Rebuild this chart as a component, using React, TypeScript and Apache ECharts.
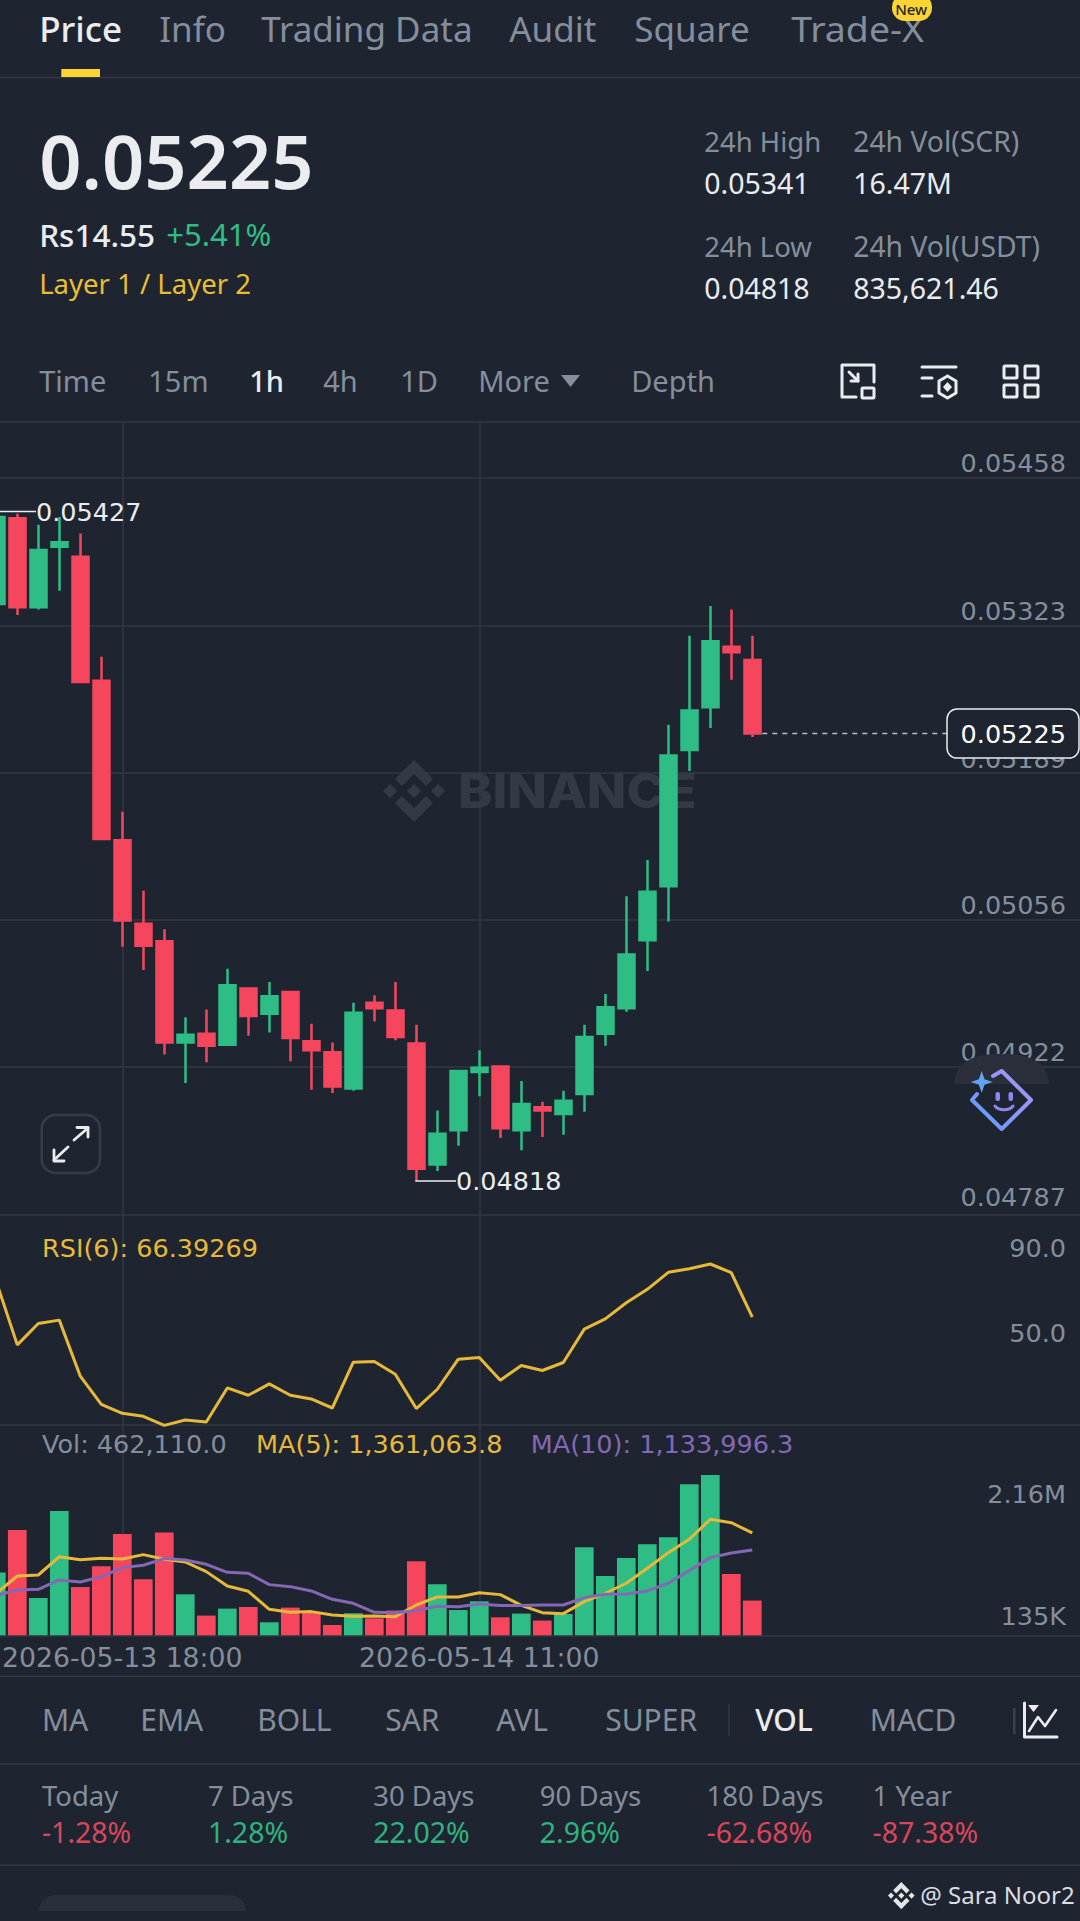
import React, { useEffect, useRef } from "react";
import * as echarts from "echarts";

const BG = "#1F2530";
const LINE = "#323945";
const GREY = "#848E9C";
const WHITE = "#EAECEF";
const UP = "#2EBD85";
const DOWN = "#F6465D";
const GOLD = "#E6B93A";
const PURPLE = "#8468B5";
const UI = "'Noto Sans'";
const NUM = "'DejaVu Sans'";

// [open, close, low, high]
const candles: number[][] = [
  [0.05343, 0.05422, 0.05328, 0.05427],
  [0.05421, 0.0534, 0.05333, 0.05425],
  [0.0534, 0.05392, 0.05338, 0.05415],
  [0.05395, 0.05399, 0.05355, 0.05422],
  [0.05386, 0.05272, 0.05271, 0.05407],
  [0.05273, 0.05129, 0.05128, 0.05295],
  [0.05128, 0.05055, 0.05031, 0.05154],
  [0.05052, 0.05032, 0.0501, 0.05082],
  [0.05036, 0.04944, 0.04933, 0.05047],
  [0.04944, 0.04951, 0.04907, 0.04967],
  [0.04952, 0.04941, 0.04926, 0.04974],
  [0.04942, 0.04996, 0.04941, 0.05011],
  [0.04993, 0.04968, 0.0495, 0.04994],
  [0.0497, 0.04986, 0.04953, 0.04999],
  [0.0499, 0.04948, 0.04927, 0.04991],
  [0.04945, 0.04937, 0.04901, 0.04961],
  [0.04935, 0.04904, 0.04898, 0.04944],
  [0.04902, 0.04971, 0.049, 0.0498],
  [0.0498, 0.04975, 0.04963, 0.04987],
  [0.04973, 0.04949, 0.04946, 0.04999],
  [0.04943, 0.04829, 0.04818, 0.0496],
  [0.04833, 0.04861, 0.04827, 0.04882],
  [0.04864, 0.04918, 0.0485, 0.04919],
  [0.04917, 0.04921, 0.04895, 0.04937],
  [0.04922, 0.04866, 0.04857, 0.04923],
  [0.04864, 0.04888, 0.04846, 0.04909],
  [0.04885, 0.04882, 0.04858, 0.0489],
  [0.04879, 0.04891, 0.0486, 0.049],
  [0.04897, 0.04949, 0.04881, 0.0496],
  [0.04952, 0.04976, 0.04941, 0.04988],
  [0.04975, 0.05024, 0.04972, 0.05077],
  [0.05037, 0.05081, 0.05009, 0.0511],
  [0.05086, 0.05205, 0.05054, 0.05233],
  [0.0521, 0.05246, 0.05191, 0.05314],
  [0.05249, 0.05309, 0.0523, 0.05341],
  [0.05304, 0.05299, 0.05274, 0.05338],
  [0.05292, 0.05225, 0.05222, 0.05314],
];

const rsi6 = [
  83.18, 53.27, 63.41, 64.98, 38.44, 25.17, 20.9, 19.48, 15.21, 17.73, 16.78, 32.89, 29.43, 34.79, 29.43, 27.68, 23.41,
  45.07, 45.4, 39.38, 23.13, 32.28, 46.49, 47.3, 36.54, 43.51, 41.14, 44.93, 60.71, 65.59, 73.18, 79.53, 87.58, 89.29,
  91.52, 87.39, 66.39,
];

const volumes = [
  834000, 1400000, 496000, 1653000, 642000, 918000, 1347000, 745000, 1366000, 545000, 262000, 355000, 376000, 173000,
  368000, 302000, 137000, 293000, 226000, 329000, 984000, 678000, 336000, 452000, 239000, 289000, 196000, 283000,
  1170000, 789000, 1028000, 1210000, 1303000, 2008000, 2132000, 815000, 462110,
];

const volMa5 = [
  559000, 789000, 802000, 1046000, 1006000, 1024000, 1015000, 1073000, 1011000, 975000, 847000, 656000, 585000, 346000,
  306000, 315000, 270000, 253000, 257000, 248000, 403000, 510000, 510000, 567000, 541000, 399000, 301000, 288000,
  448000, 559000, 692000, 891000, 1099000, 1277000, 1543000, 1498000, 1361064,
];

const volMa10 = [
  528000, 603000, 612000, 736000, 709000, 780000, 900000, 931000, 1020000, 1002000, 944000, 838000, 825000, 674000,
  647000, 590000, 479000, 426000, 306000, 301000, 328000, 386000, 381000, 417000, 395000, 395000, 403000, 403000,
  501000, 545000, 550000, 590000, 692000, 860000, 1033000, 1095000, 1133996,
];

const priceTicks = [0.05458, 0.05323, 0.05189, 0.05056, 0.04922, 0.04787];
const rsiTicks = [90, 50];
const volTickLabels = ["2.16M", "135K"];
const timeTickIndexes = [6, 23];

const startTime = Date.UTC(2026, 4, 13, 12);
const categories = Array.from({ length: 53 }, (_, i) => {
  const d = new Date(startTime + i * 3600000);
  const p = (n: number) => String(n).padStart(2, "0");
  return `${d.getUTCFullYear()}-${p(d.getUTCMonth() + 1)}-${p(d.getUTCDate())} ${p(d.getUTCHours())}:00`;
});

const topTabs = [
  ["Price", 40],
  ["Info", 160],
  ["Trading Data", 262],
  ["Audit", 510],
  ["Square", 635],
  ["Trade-X", 792],
] as const;
const frames = [
  ["Time", 40],
  ["15m", 149],
  ["1h", 250],
  ["4h", 324],
  ["1D", 401],
  ["More", 479],
  ["Depth", 632],
] as const;
const indicators = [
  ["MA", 42.7],
  ["EMA", 141],
  ["BOLL", 258],
  ["SAR", 386],
  ["AVL", 497],
  ["SUPER", 606],
  ["VOL", 756],
  ["MACD", 870.5],
] as const;
const periods = [
  ["Today", "-1.28%", 42.7],
  ["7 Days", "1.28%", 208.7],
  ["30 Days", "22.02%", 374],
  ["90 Days", "2.96%", 540.6],
  ["180 Days", "-62.68%", 707.3],
  ["1 Year", "-87.38%", 873.3],
] as const;

const LOGO =
  "M38.73 53.2l24.59-24.58 24.6 24.6 14.3-14.31L63.32 0 24.43 38.9zM0 63.31l14.3-14.31 14.31 14.31-14.31 14.3zM38.73 73.41l24.59 24.59 24.6-24.6 14.31 14.29-38.9 38.91-38.91-38.88-.02-.02zM98 63.31l14.3-14.3 14.31 14.3-14.31 14.31zM77.83 63.3L63.32 48.78 52.59 59.51l-1.24 1.23-2.54 2.54 14.51 14.5 14.51-14.47z";
echarts.graphic.registerShape("binanceLogo", echarts.graphic.extendPath(LOGO, {}) as any);
echarts.graphic.registerShape(
  "botDome",
  echarts.graphic.extendPath("M0 31 C1 9 20 0 47 1 C74 0 94 9 95 31 Z", {}) as any
);

const txt = (
  text: string,
  x: number,
  y: number,
  size: number,
  fill: string,
  family: string = UI,
  weight: number = 400,
  align: string = "left",
  z = 30
) => ({
  type: "text",
  x: family === UI ? x - 0.8 : x,
  y: family === UI ? y - 2 : y,
  z,
  silent: true,
  style: { text, fontSize: size, fontFamily: family, fontWeight: weight, fill, align, verticalAlign: "middle" },
});
const rule = (y: number) => ({
  type: "line",
  z: 5,
  silent: true,
  shape: { x1: 0, y1: y, x2: 1080, y2: y },
  style: { stroke: LINE, lineWidth: 1.5 },
});
const stroke = (points: number[][], color = WHITE, lineWidth = 3, z = 30) => ({
  type: "polyline",
  z,
  silent: true,
  shape: { points },
  style: { stroke: color, lineWidth, fill: "none", lineCap: "round", lineJoin: "round" },
});
const box = (x: number, y: number, width: number, height: number, r: any, st: any, z = 30) => ({
  type: "rect",
  z,
  silent: true,
  shape: { x, y, width, height, r },
  style: st,
});

function staticGraphics(): any[] {
  const out: any[] = [];
  topTabs.forEach(([label, x], i) => {
    const el: any = txt(label, x, 30, 35, i === 0 ? WHITE : GREY, UI, i === 0 ? 500 : 400);
    if (label === "Trade-X") el.scaleX = 1.07;
    out.push(el);
  });
  out.push(box(61.3, 69, 38.7, 8, 0, { fill: "#FCD535" }));
  out.push(rule(77.5));
  out.push(box(892, -6, 40, 27, 13, { fill: "#FCD535" }));
  out.push(txt("New", 912, 11, 15, "#1F2530", UI, 500, "center"));

  out.push(txt("0.05225", 40, 162, 74, WHITE, UI, 600));
  out.push(txt("Rs14.55", 40, 236, 31.5, WHITE, UI, 500));
  out.push(txt("+5.41%", 167, 236, 31, UP, UI, 400));
  out.push(txt("Layer 1 / Layer 2", 40, 285, 27.5, "#EBBD35", UI, 400));
  out.push(txt("24h High", 705, 143, 27.5, GREY));
  out.push(txt("0.05341", 705, 185, 28.5, WHITE));
  out.push(txt("24h Low", 705, 248, 27.5, GREY));
  out.push(txt("0.04818", 705, 290, 28.5, WHITE));
  out.push(txt("24h Vol(SCR)", 854, 143, 28.3, GREY));
  out.push(txt("16.47M", 854, 185, 28.5, WHITE));
  out.push(txt("24h Vol(USDT)", 854, 248, 28.3, GREY));
  out.push(txt("835,621.46", 854, 290, 28.5, WHITE));

  frames.forEach(([label, x]) =>
    out.push(txt(label, x, 382, 29, label === "1h" ? WHITE : GREY, UI, label === "1h" ? 500 : 400))
  );
  out.push({
    type: "polygon",
    z: 30,
    silent: true,
    shape: { points: [[561, 375], [580, 375], [570.5, 387]] },
    style: { fill: GREY },
  });
  // toolbar icons
  out.push(stroke([[856, 397], [842, 397], [842, 365], [874, 365], [874, 382]]));
  out.push(stroke([[849, 372], [858, 381]]));
  out.push(stroke([[858, 374], [858, 381], [851, 381]]));
  out.push(box(862, 388, 12, 10, 1, { stroke: WHITE, lineWidth: 3, fill: "none" }));
  out.push(stroke([[922, 367], [956, 367]]));
  out.push(stroke([[922, 378], [932, 378]]));
  out.push(stroke([[922, 396], [932, 396]]));
  out.push(stroke([[947.5, 376], [956, 381], [956, 393], [947.5, 398], [939, 393], [939, 381], [947.5, 376]]));
  out.push({
    type: "polygon",
    z: 30,
    silent: true,
    shape: { points: [[947.5, 382], [952, 387], [947.5, 392], [943, 387]] },
    style: { fill: WHITE },
  });
  [[1004, 366], [1025, 366], [1004, 385], [1025, 385]].forEach(([x, y]) =>
    out.push(box(x, y, 13, 12, 1, { stroke: WHITE, lineWidth: 3, fill: "none" }))
  );
  out.push(rule(422));

  // watermark
  out.push({
    type: "binanceLogo",
    z: 1,
    silent: true,
    x: 383,
    y: 760,
    scaleX: 0.49,
    scaleY: 0.49,
    style: { fill: "#333A45" },
  });
  out.push({
    type: "text",
    z: 1,
    silent: true,
    x: 458,
    y: 791,
    scaleX: 1.08,
    style: {
      text: "BINANCE",
      fontSize: 48,
      fontFamily: "Inter",
      fontWeight: 800,
      fill: "#333A45",
      align: "left",
      verticalAlign: "middle",
    },
  });

  // expand button
  out.push(box(41.7, 1115, 58.3, 58, 14, { stroke: "#363D49", lineWidth: 2.5, fill: "none" }));
  out.push(stroke([[54, 1160], [68, 1147]], WHITE, 2.8));
  out.push(stroke([[54, 1150], [54, 1161], [64, 1161]], WHITE, 2.8));
  out.push(stroke([[74, 1140], [88, 1128]], WHITE, 2.8));
  out.push(stroke([[77, 1127.5], [88, 1127.5], [88, 1137]], WHITE, 2.8));

  // assistant bubble
  out.push({
    type: "botDome",
    z: 25,
    silent: true,
    x: 954,
    y: 1053,
    style: { fill: "#2B2E3B" },
  });
  out.push({
    type: "polyline",
    z: 30,
    silent: true,
    shape: { points: [[993, 1076], [1001.7, 1071], [1031, 1100], [1001.7, 1129], [972, 1100], [977, 1094]] },
    style: {
      fill: "none",
      lineWidth: 4,
      lineJoin: "round",
      lineCap: "round",
      stroke: new echarts.graphic.LinearGradient(0, 1, 1, 0, [
        { offset: 0, color: "#5B9CF8" },
        { offset: 1, color: "#B294F5" },
      ]),
    },
  });
  out.push({
    type: "polygon",
    z: 30,
    silent: true,
    shape: {
      points: [[981.7, 1071], [984.5, 1079.2], [992.7, 1082], [984.5, 1084.8], [981.7, 1093], [978.9, 1084.8], [970.7, 1082], [978.9, 1079.2]],
    },
    style: { fill: "#62A3F6" },
  });
  out.push(box(995.5, 1092, 4.5, 9, 2, { fill: "#8F86F0" }));
  out.push(box(1008.5, 1092, 4.5, 9, 2, { fill: "#8F86F0" }));
  out.push({
    type: "bezierCurve",
    z: 30,
    silent: true,
    shape: { x1: 995, y1: 1106, x2: 1013, y2: 1106, cpx1: 999, cpy1: 1111, cpx2: 1009, cpy2: 1111 },
    style: { stroke: "#8F86F0", lineWidth: 3, fill: "none", lineCap: "round" },
  });

  // pane legends
  out.push(txt("RSI(6): 66.39269", 42, 1247.5, 25.5, GOLD, NUM));
  out.push(txt("Vol: 462,110.0", 42, 1444, 25.5, GREY, NUM));
  out.push(txt("MA(5): 1,361,063.8", 256, 1444, 25.5, GOLD, NUM));
  out.push(txt("MA(10): 1,133,996.3", 530.7, 1444, 25.5, PURPLE, NUM));
  out.push(txt(volTickLabels[0], 1066, 1494, 25.5, GREY, NUM, 400, "right"));
  out.push(txt(volTickLabels[1], 1066, 1616, 25.5, GREY, NUM, 400, "right"));

  // indicator row
  out.push(rule(1676.3));
  indicators.forEach(([label, x]) =>
    out.push(txt(label, x, 1721.7, 30, label === "VOL" ? WHITE : GREY, UI, label === "VOL" ? 500 : 400))
  );
  out.push({
    type: "line",
    z: 30,
    silent: true,
    shape: { x1: 729, y1: 1704, x2: 729, y2: 1736 },
    style: { stroke: LINE, lineWidth: 1.5 },
  });
  out.push(box(1013, 1708, 2.5, 26, 0, { fill: "#3A414D" }));
  out.push(stroke([[1024.5, 1703], [1024.5, 1737], [1057, 1737]], WHITE, 3));
  out.push(stroke([[1029, 1731], [1038, 1717], [1045, 1726], [1056, 1710]], WHITE, 2.6));
  out.push({
    type: "polygon",
    z: 30,
    silent: true,
    shape: { points: [[1028, 1705], [1039, 1705], [1033.5, 1712]] },
    style: { fill: WHITE },
  });
  out.push(rule(1764));
  periods.forEach(([label, value, x]) => {
    out.push(txt(label, x, 1797.7, 27.5, GREY));
    out.push(txt(value, x, 1834, 28.5, value.startsWith("-") ? "#D9465C" : "#2EB380"));
  });
  out.push(rule(1865.3));
  out.push(box(39, 1895, 207, 16, [16, 16, 0, 0], { fill: "#2A303B" }));
  out.push({
    type: "binanceLogo",
    z: 30,
    silent: true,
    x: 888,
    y: 1882,
    scaleX: 0.21,
    scaleY: 0.215,
    style: { fill: "#E3E5E8" },
  });
  out.push(txt("@ Sara Noor2", 921, 1896, 24, "#DADDE1"));
  return out;
}

const xAxisBase = (gridIndex: number) => ({
  type: "category",
  gridIndex,
  data: categories,
  boundaryGap: true,
  axisTick: { show: false },
  axisLabel: { show: false },
  axisLine: { show: gridIndex > 0, lineStyle: { color: LINE, width: 1.5 } },
  splitLine: {
    show: true,
    alignWithLabel: true,
    interval: (i: number) => timeTickIndexes.includes(i),
    lineStyle: { color: LINE, width: 1.5 },
  },
});

export default function App() {
  const ref = useRef<HTMLDivElement>(null);
  useEffect(() => {
    document.body.style.margin = "0";
    document.body.style.background = BG;
    const chart = echarts.init(ref.current!, undefined, { renderer: "svg" });
    const gridLeft = -14.2;
    const gridWidth = 21 * categories.length;
    const gridBase = { left: gridLeft, width: gridWidth, outerBoundsMode: "none" };
    const option: any = {
      animation: false,
      backgroundColor: BG,
      grid: [
        { ...gridBase, top: 422, height: 793 },
        { ...gridBase, top: 1215, height: 209.3 },
        { ...gridBase, top: 1424.3, height: 211 },
      ],
      xAxis: [
        xAxisBase(0),
        xAxisBase(1),
        {
          ...xAxisBase(2),
          axisLabel: {
            show: true,
            interval: (i: number) => timeTickIndexes.includes(i),
            hideOverlap: false,
            color: GREY,
            fontFamily: NUM,
            fontSize: 26.7,
            margin: 9,
          },
        },
      ],
      yAxis: [
        {
          type: "value",
          gridIndex: 0,
          position: "right",
          min: 0.04787,
          max: 0.055085,
          axisLine: { show: false },
          axisTick: { show: false, customValues: priceTicks },
          splitLine: { show: true, lineStyle: { color: LINE, width: 1.5 } },
          axisLabel: {
            inside: true,
            customValues: priceTicks,
            formatter: (v: number) => (v === 0.04787 ? `{low|${v.toFixed(5)}}` : v.toFixed(5)),
            rich: { low: { lineHeight: 36, fontFamily: NUM, fontSize: 25.5, color: GREY } },
            color: GREY,
            fontFamily: NUM,
            fontSize: 25.5,
            margin: 32.8,
            align: "right",
            verticalAlign: "bottom",
            lineHeight: 29,
            hideOverlap: false,
          },
        },
        {
          type: "value",
          gridIndex: 1,
          position: "right",
          min: 15.7,
          max: 114.7,
          axisLine: { show: false },
          axisTick: { show: false, customValues: rsiTicks },
          splitLine: { show: false },
          axisLabel: {
            inside: true,
            customValues: rsiTicks,
            formatter: (v: number) => v.toFixed(1),
            color: GREY,
            fontFamily: NUM,
            fontSize: 25.5,
            margin: 32.8,
            align: "right",
            verticalAlign: "bottom",
            lineHeight: 38,
            hideOverlap: false,
          },
        },
        {
          type: "value",
          gridIndex: 2,
          position: "right",
          min: 0,
          max: 2806300,
          axisLine: { show: false },
          axisTick: { show: false },
          splitLine: { show: false },
          axisLabel: { show: false },
        },
      ],
      series: [
        {
          type: "candlestick",
          name: "Price",
          xAxisIndex: 0,
          yAxisIndex: 0,
          barWidth: 16.2,
          data: candles,
          itemStyle: { color: UP, color0: DOWN, borderColor: UP, borderColor0: DOWN, borderWidth: 2.5 },
        },
        {
          type: "line",
          name: "RSI(6)",
          xAxisIndex: 1,
          yAxisIndex: 1,
          data: rsi6,
          showSymbol: false,
          symbol: "none",
          clip: false,
          lineStyle: { color: GOLD, width: 3 },
        },
        {
          type: "bar",
          name: "Vol",
          xAxisIndex: 2,
          yAxisIndex: 2,
          barWidth: 18.67,
          data: volumes.map((value, i) => ({
            value,
            itemStyle: { color: candles[i][1] >= candles[i][0] ? UP : DOWN },
          })),
        },
        {
          type: "line",
          name: "MA(5)",
          xAxisIndex: 2,
          yAxisIndex: 2,
          data: volMa5,
          symbol: "none",
          lineStyle: { color: GOLD, width: 3 },
        },
        {
          type: "line",
          name: "MA(10)",
          xAxisIndex: 2,
          yAxisIndex: 2,
          data: volMa10,
          symbol: "none",
          lineStyle: { color: PURPLE, width: 3 },
        },
      ],
    };
    chart.setOption(option);

    // annotations are located through the chart's own scales
    const toPx = (i: number, v: number) => chart.convertToPixel({ xAxisIndex: 0, yAxisIndex: 0 }, [i, v]) as number[];
    const last = candles.length - 1;
    const [lastX, closeY] = toPx(last, candles[last][1]);
    const highY = toPx(0, candles[0][3])[1];
    const lowIndex = 20;
    const [lowX, lowY] = toPx(lowIndex, candles[lowIndex][2]);
    const dynamic: any[] = [
      {
        type: "line",
        z: 20,
        silent: true,
        shape: { x1: lastX + 10, y1: closeY, x2: 947, y2: closeY },
        style: { stroke: "#B7BBC2", lineWidth: 1.5, lineDash: [5, 5] },
      },
      box(947, closeY - 24.5, 132, 49, 10, { fill: BG, stroke: WHITE, lineWidth: 1.5 }, 20),
      txt(candles[last][1].toFixed(5), 1066, closeY, 25.5, "#FFFFFF", NUM, 400, "right", 21),
      {
        type: "line",
        z: 20,
        silent: true,
        shape: { x1: 0, y1: highY, x2: 36, y2: highY },
        style: { stroke: WHITE, lineWidth: 1.5 },
      },
      txt(candles[0][3].toFixed(5), 36, highY, 25.5, WHITE, NUM, 400, "left", 21),
      {
        type: "line",
        z: 20,
        silent: true,
        shape: { x1: lowX - 1, y1: lowY, x2: 456, y2: lowY },
        style: { stroke: WHITE, lineWidth: 1.5 },
      },
      txt(candles[lowIndex][2].toFixed(5), 456, lowY, 25.5, WHITE, NUM, 400, "left", 21),
    ];
    chart.setOption({ graphic: { elements: [...staticGraphics(), ...dynamic] } });
    return () => chart.dispose();
  }, []);
  return <div ref={ref} style={{ width: 1080, height: 1921, overflow: "hidden" }} />;
}
